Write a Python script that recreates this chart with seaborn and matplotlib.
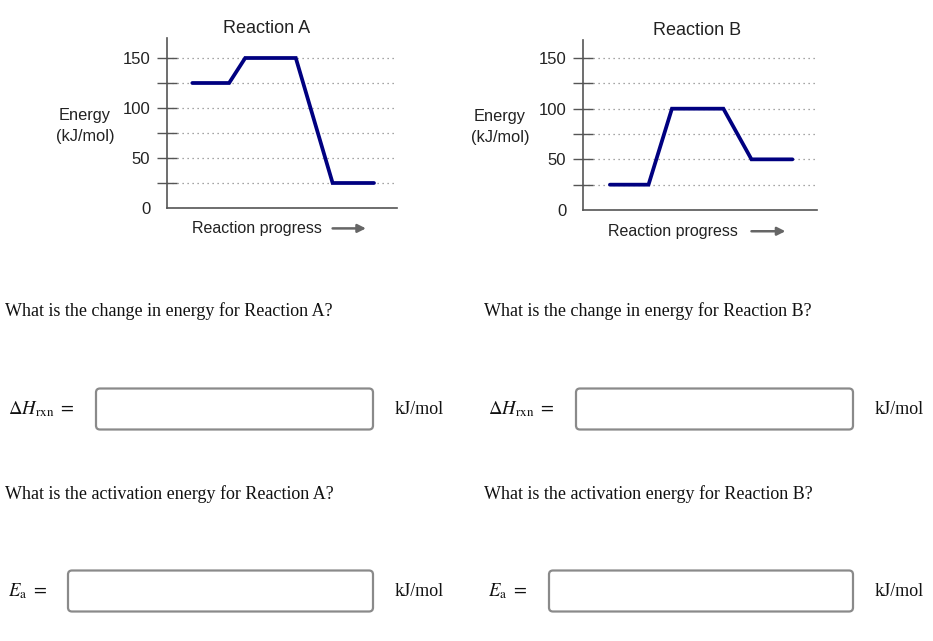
import matplotlib
matplotlib.use('Agg')
import matplotlib.pyplot as plt
import pandas as pd
import seaborn as sns
from matplotlib.patches import FancyBboxPatch

# Energy profiles
progress_a = [1.1, 2.7, 3.4, 5.6, 7.2, 9.0]
energy_a = [125, 125, 150, 150, 25, 25]
progress_b = [1.15, 2.8, 3.8, 6.0, 7.2, 8.95]
energy_b = [25, 25, 100, 100, 50, 50]

y_ticks = [0, 25, 50, 75, 100, 125, 150]
y_tick_labels = ['0', '', '50', '', '100', '', '150']

questions = ['What is the change in energy for Reaction A?',
             'What is the change in energy for Reaction B?',
             'What is the activation energy for Reaction A?',
             'What is the activation energy for Reaction B?']

sns.set_style('white')
plt.rcParams['font.family'] = ['Liberation Sans', 'DejaVu Sans']
plt.rcParams['mathtext.fontset'] = 'stix'

W, H = 933, 641
fig = plt.figure(figsize=(W / 100, H / 100), dpi=100)


def px_axes(left, top, right, bottom):
    return fig.add_axes([left / W, 1 - bottom / H, (right - left) / W, (bottom - top) / H])


def draw_reaction(ax, x, y, ymax, title, title_x, lab_x, lab_y, xl_x, xl_y, arr):
    df = pd.DataFrame({'progress': x, 'energy': y})
    sns.lineplot(data=df, x='progress', y='energy', ax=ax, color='#000080', lw=2.7,
                 sort=False, solid_joinstyle='miter')
    ax.set_xlim(0, 10)
    ax.set_ylim(0, ymax)
    ax.set_xticks([])
    ax.set_yticks(y_ticks)
    ax.set_yticklabels(y_tick_labels, fontsize=12, color='#222222')
    ax.tick_params(axis='y', direction='inout', length=14, width=1, color='#555555', pad=5, left=True)
    ax.yaxis.get_major_ticks()[0].tick1line.set_visible(False)
    ax.grid(axis='y', linestyle=(0, (1, 3)), color='#888888', lw=0.9)
    ax.set_axisbelow(True)
    for s in ['top', 'right']:
        ax.spines[s].set_visible(False)
    for s in ['left', 'bottom']:
        ax.spines[s].set_color('#555555')
        ax.spines[s].set_linewidth(1.2)
    ax.set_xlabel('')
    ax.set_ylabel('Energy\n(kJ/mol)', rotation=0, fontsize=11.8, color='#222222',
                  ha='center', va='center', linespacing=1.5)
    ax.yaxis.set_label_coords(lab_x, lab_y)
    ax.text(title_x, 1.055, title, transform=ax.transAxes, ha='center', va='center',
            fontsize=13, color='#222222')
    ax.text(xl_x, xl_y, 'Reaction progress', transform=ax.transAxes, ha='left', va='center',
            fontsize=11.5, color='#222222')
    ax.annotate('', xy=(arr[1], xl_y), xytext=(arr[0], xl_y), xycoords='axes fraction',
                arrowprops=dict(arrowstyle='-|>', color='#666666', lw=1.8,
                                mutation_scale=12, shrinkA=0, shrinkB=0),
                annotation_clip=False)


ax_a = px_axes(167, 38, 397, 208)
draw_reaction(ax_a, progress_a, energy_a, 170, 'Reaction A', 0.435, -0.357, 0.48,
              0.108, -0.12, (0.72, 0.865))

ax_b = px_axes(583, 40, 817, 210)
draw_reaction(ax_b, progress_b, energy_b, 167.8, 'Reaction B', 0.487, -0.355, 0.49,
              0.107, -0.125, (0.72, 0.865))

# Question / answer area drawn in pixel coordinates
ov = fig.add_axes([0, 0, 1, 1], zorder=-1)
ov.set_xlim(0, W)
ov.set_ylim(H, 0)
ov.axis('off')

serif = ['Liberation Serif', 'DejaVu Serif']
ov.text(5, 316, questions[0], family=serif, fontsize=13, va='baseline', color='#111111')
ov.text(484, 316, questions[1], family=serif, fontsize=13, va='baseline', color='#111111')
ov.text(5, 499, questions[2], family=serif, fontsize=13, va='baseline', color='#111111')
ov.text(484, 499, questions[3], family=serif, fontsize=13, va='baseline', color='#111111')

rows = [(409, r'$\Delta H_{\mathrm{rxn}}\ =$', [(96, 373), (576, 853)]),
        (591, r'$E_{\mathrm{a}}\ =$', [(68, 373), (549, 853)])]
for yc, lab, boxes in rows:
    for (x0, x1), lab_x, unit_x in zip(boxes, [8, 488], [395, 875]):
        ov.text(lab_x, yc + 5, lab, fontsize=13.5, va='baseline', color='#111111')
        ov.add_patch(FancyBboxPatch((x0, yc - 20.5), x1 - x0, 41,
                                    boxstyle='round,pad=0,rounding_size=4',
                                    fc='white', ec='#8a8a8a', lw=1.6))
        ov.text(unit_x, yc + 5, 'kJ/mol', family=serif, fontsize=13, va='baseline', color='#111111')

fig.savefig('out.png', dpi=100)
